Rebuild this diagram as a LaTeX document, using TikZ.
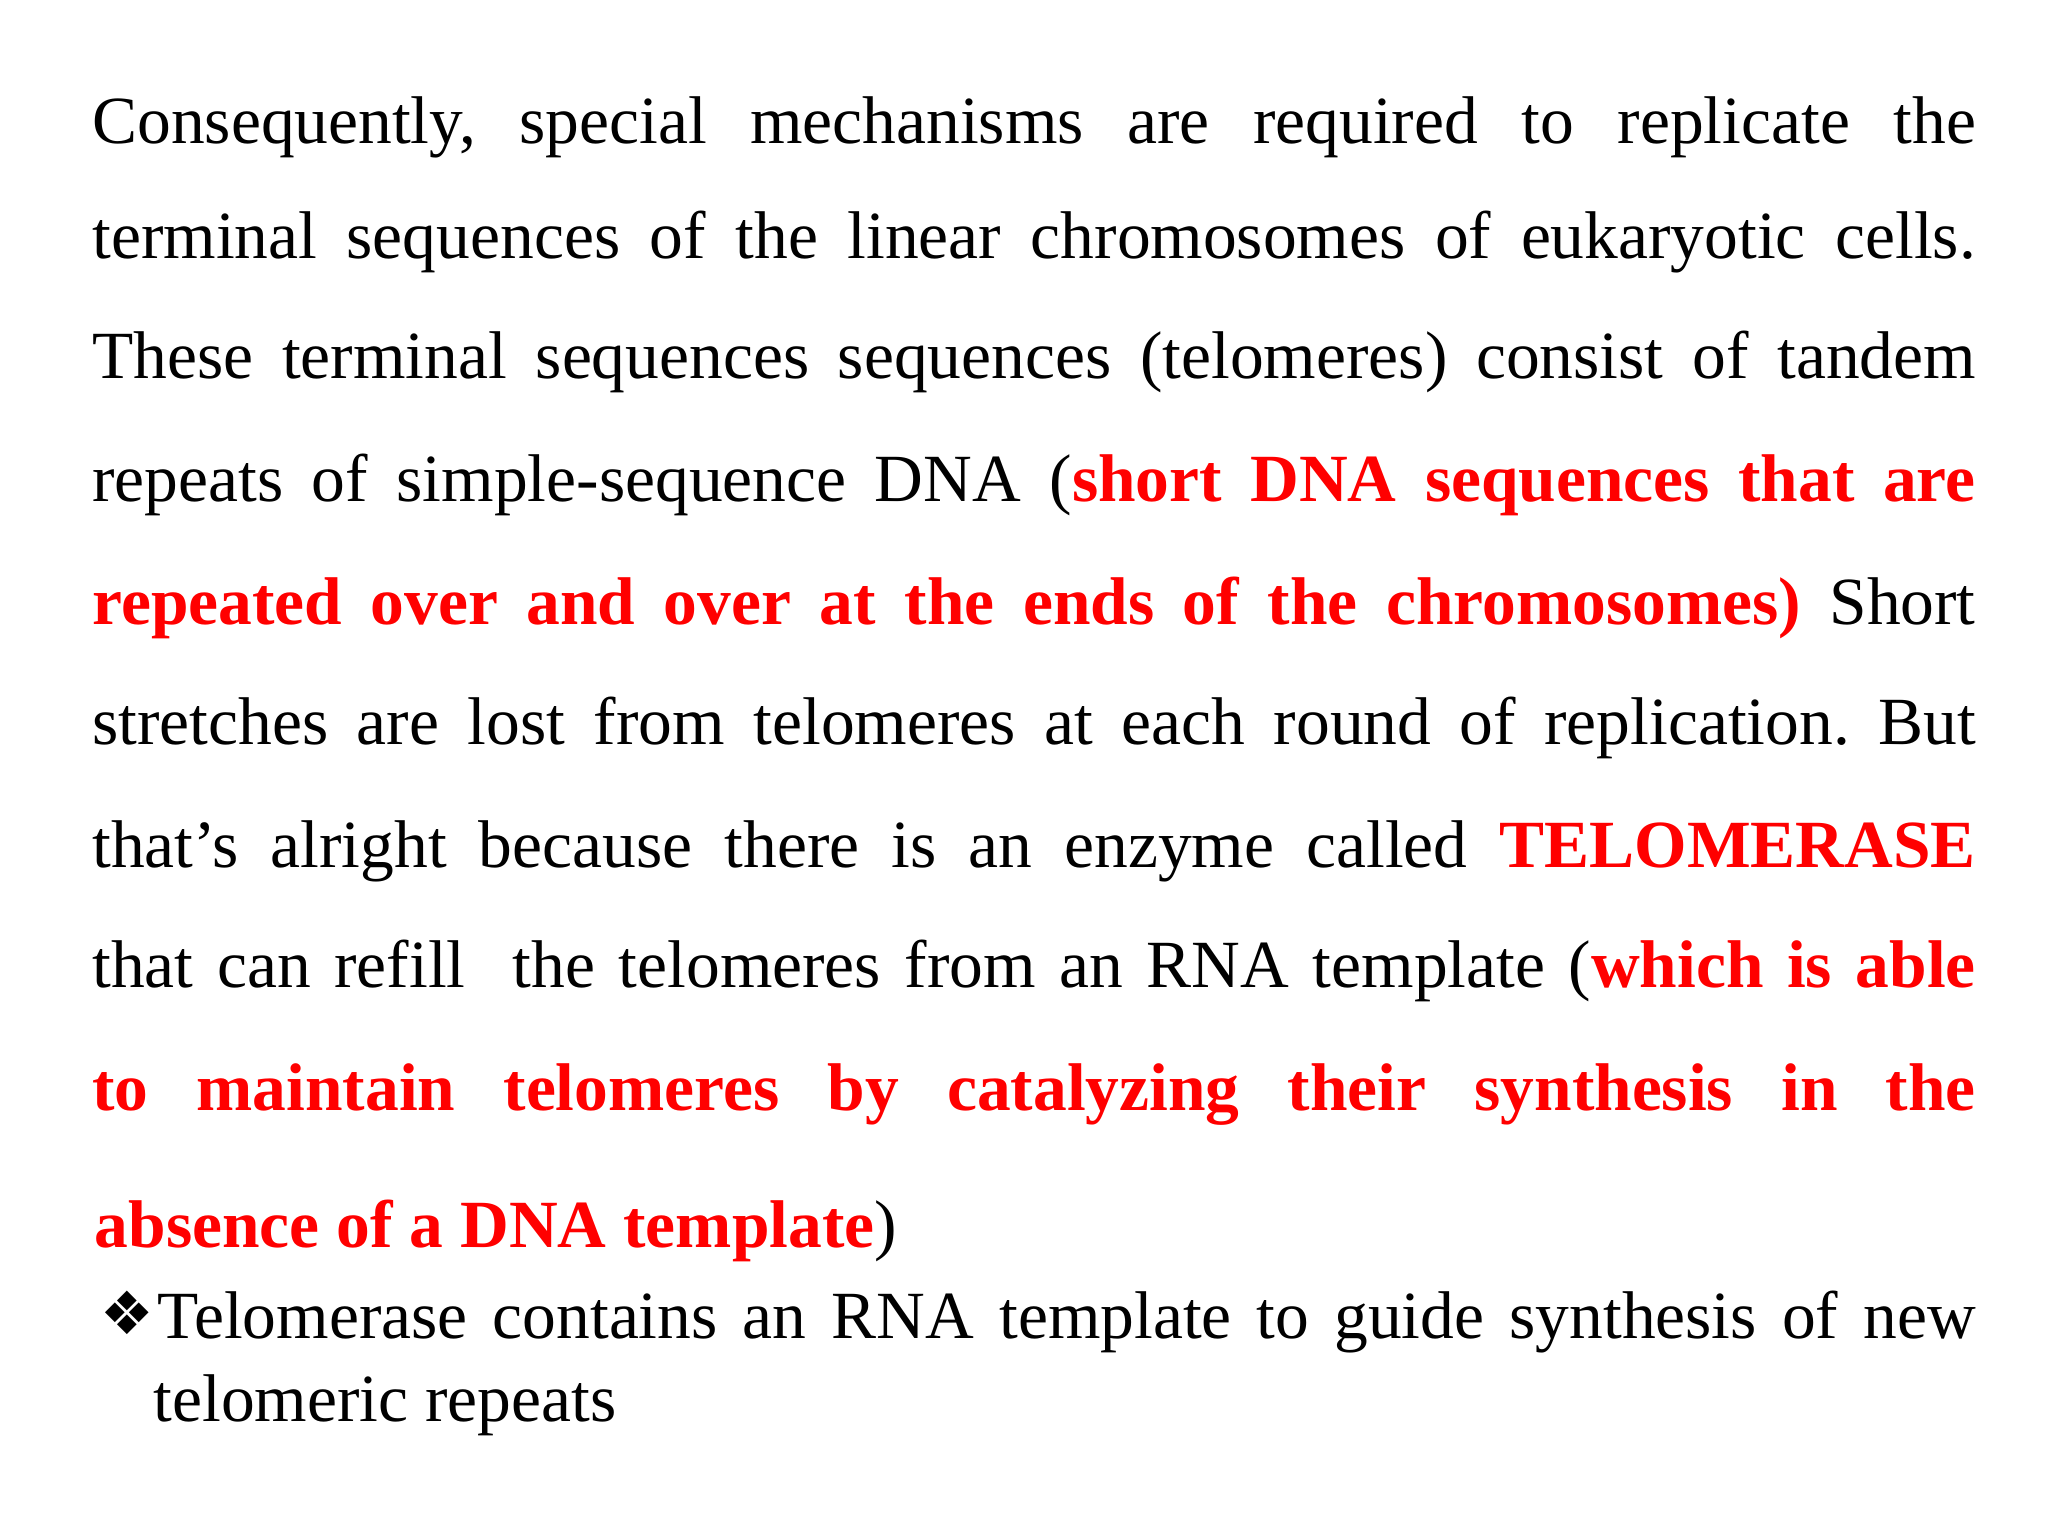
\documentclass[tikz,border=0pt]{standalone}
\usepackage{fontspec}
\setmainfont{Liberation Serif}
\newfontfamily\symfont{DejaVu Sans}
\frenchspacing
\definecolor{hl}{RGB}{255,0,0}
\newcommand{\R}[1]{\textcolor{hl}{\bfseries #1}}
\newcommand{\J}[1]{\makebox[144.2mm][s]{#1}}
\tikzset{ln/.style={anchor=base west,inner sep=0pt,font=\fontsize{14.7}{17}\selectfont}}
\begin{document}
\begin{tikzpicture}[x=0.1mm,y=-0.1mm]
\useasboundingbox[fill=white] (0,0) rectangle (1568,1176);
\node[ln] (l1) at (70,110) {\J{Consequently, special mechanisms are required to replicate the}};
\node[ln] (l2) at (70,198) {\J{terminal sequences of the linear chromosomes of eukaryotic cells.}};
\node[ln] (l3) at (70,290) {\J{These terminal sequences sequences (telomeres) consist of tandem}};
\node[ln] (l4) at (70,384) {\J{repeats of simple-sequence DNA (\R{short DNA sequences that are}}};
\node[ln] (l5) at (70,478) {\J{\R{repeated over and over at the ends of the chromosomes)} Short}};
\node[ln] (l6) at (70,570) {\J{stretches are lost from telomeres at each round of replication. But}};
\node[ln] (l7) at (70,664) {\J{that’s alright because there is an enzyme called \R{TELOMERASE}}};
\node[ln] (l8) at (70,756) {\J{that can refill\ \ the telomeres from an RNA template (\R{which is able}}};
\node[ln] (l9) at (70,850) {\J{\R{to maintain telomeres by catalyzing their synthesis in the}}};
\node[ln] (l10) at (72,955) {\R{absence of a DNA template})};
\node[ln] (b) at (76,1022) {\symfont\fontsize{13}{15}\selectfont ❖};
\node[ln] (l11) at (120,1025) {\makebox[139.2mm][s]{Telomerase contains an RNA template to guide synthesis of new}};
\node[ln] (l12) at (117,1088) {telomeric repeats};
\end{tikzpicture}
\end{document}
